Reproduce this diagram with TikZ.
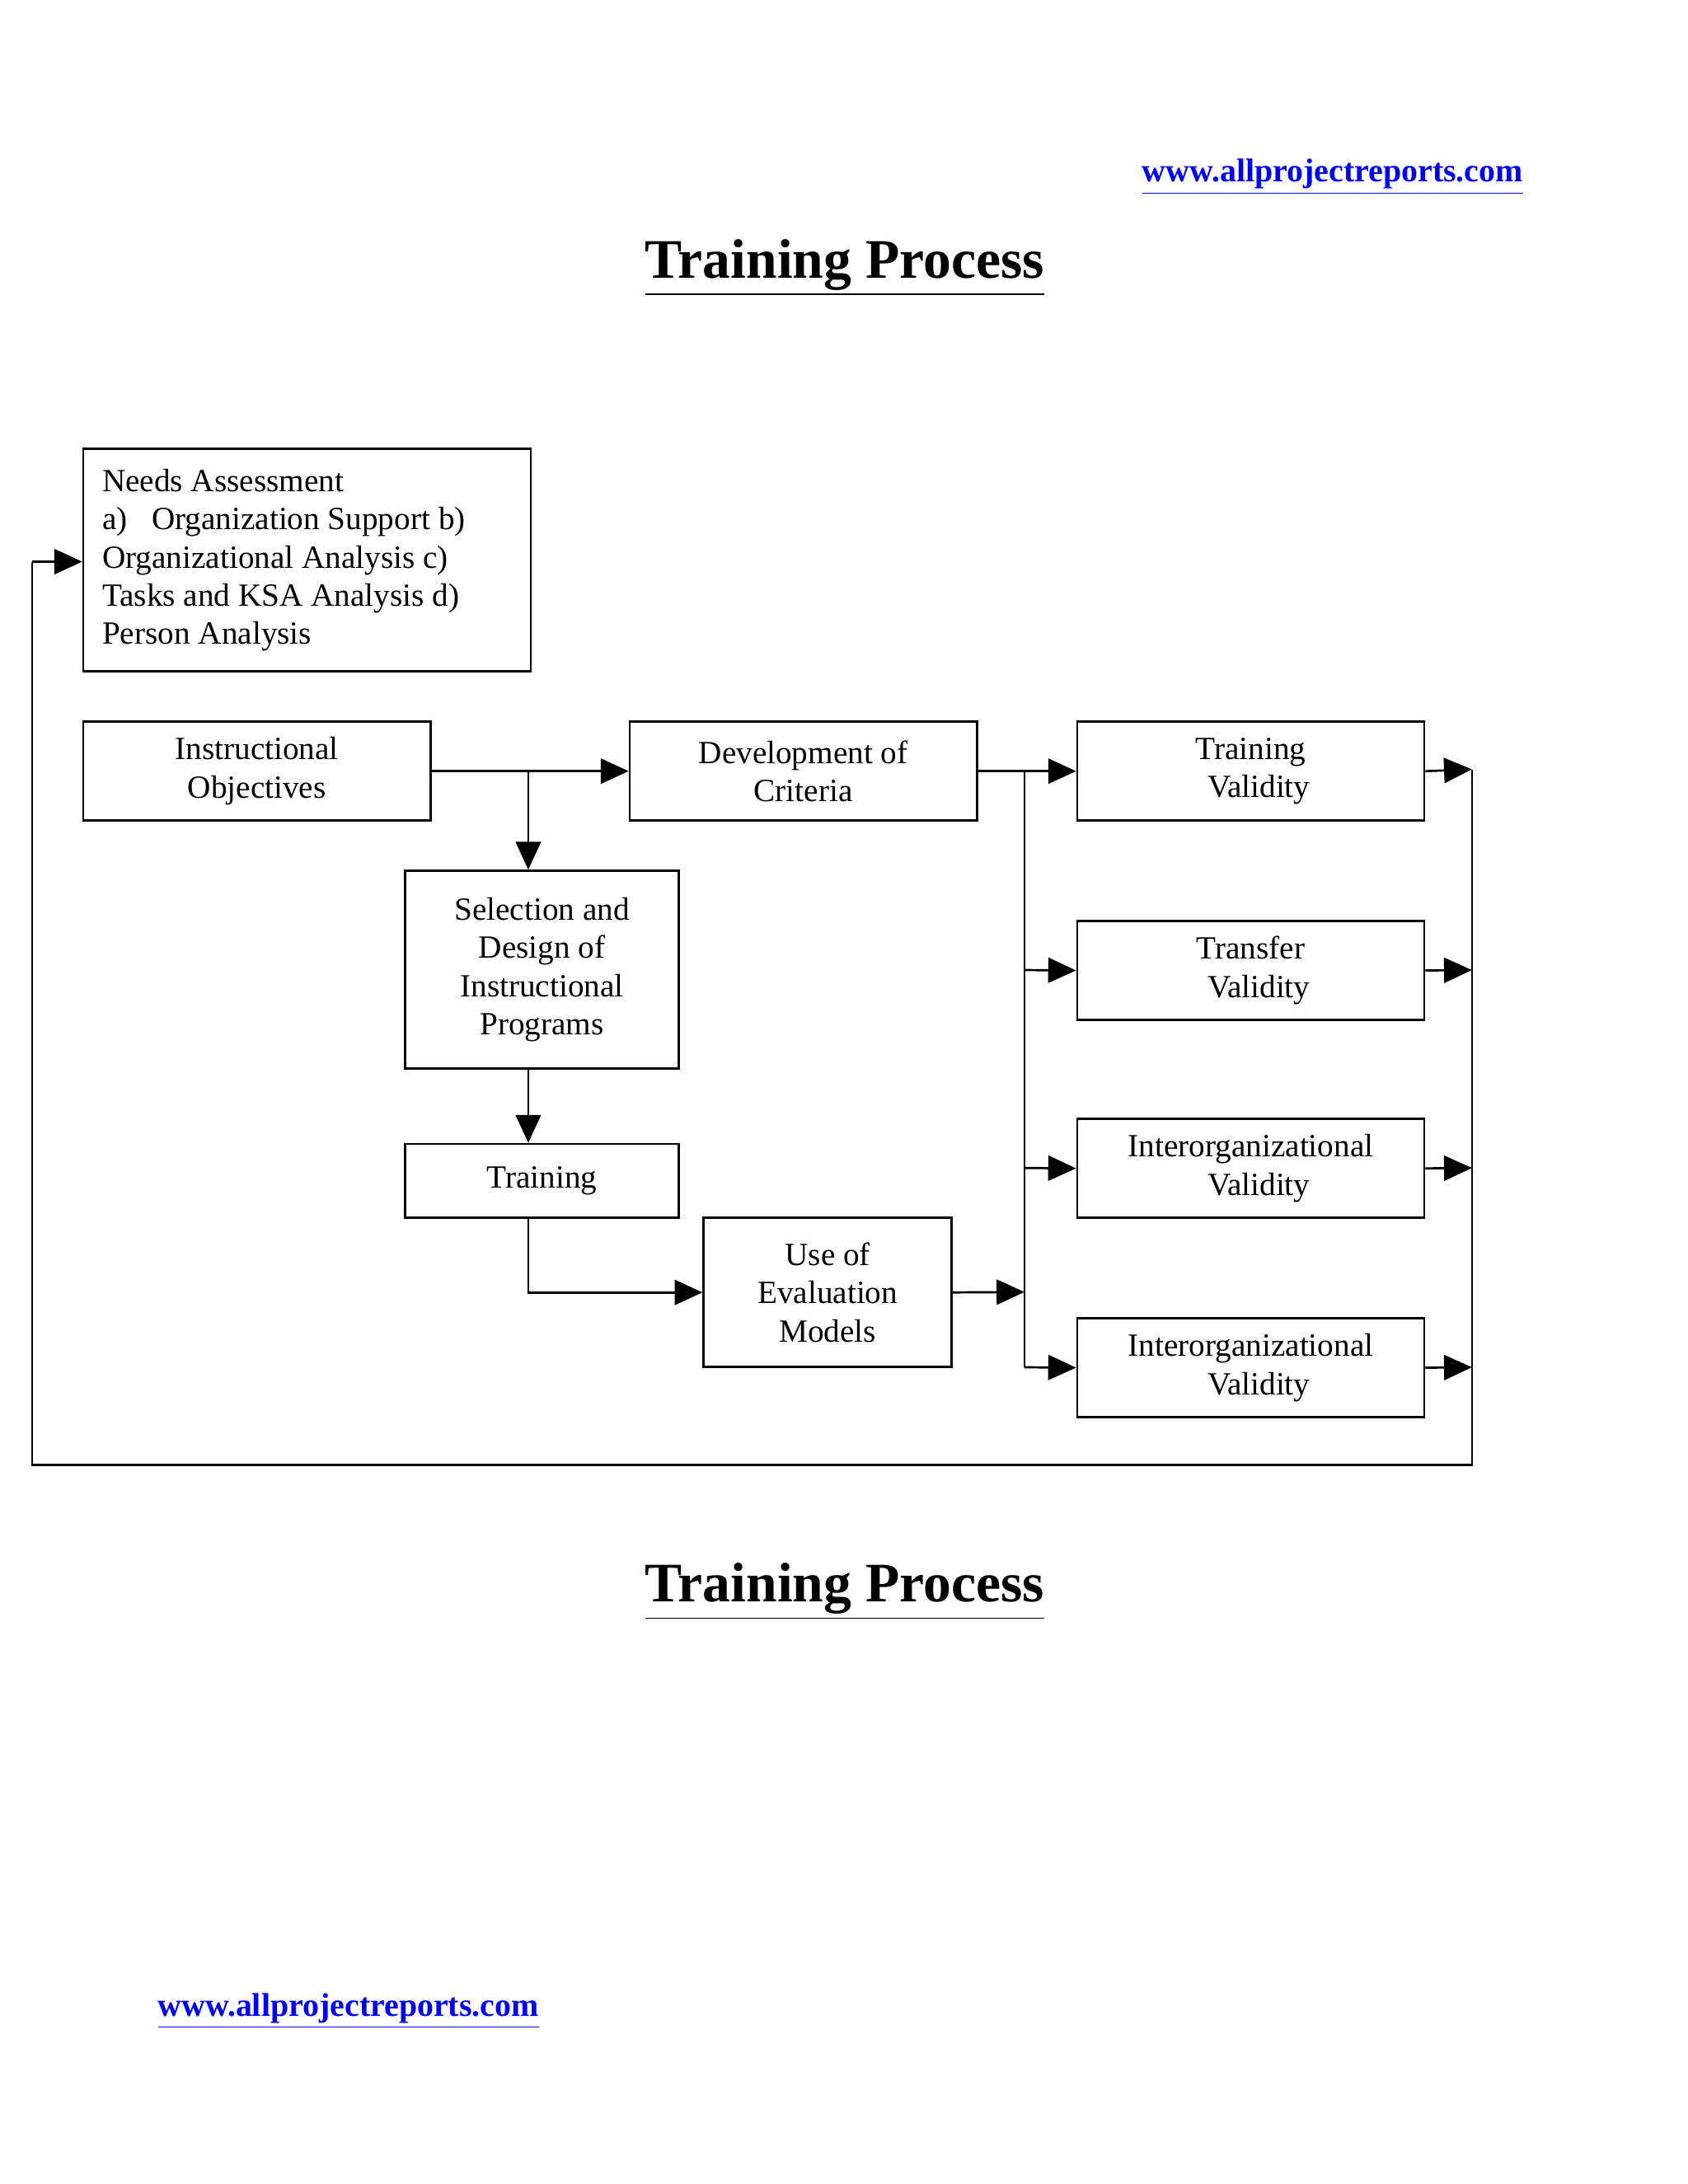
\documentclass[tikz,border=0pt]{standalone}
\usepackage{fontspec}
\setmainfont{Liberation Serif}
\usetikzlibrary{arrows.meta}
\begin{document}
\begin{tikzpicture}[x=0.5pt,y=-0.5pt,
 box/.style={draw,line width=0.8pt,inner sep=0pt,font=\fontsize{11.6}{13.7}\selectfont,align=center},
 ar/.style={line width=0.8pt,-{Triangle[length=10pt,width=9pt]}},
 ln/.style={line width=0.8pt},
 url/.style={inner sep=0pt,font=\bfseries\fontsize{11.8}{14}\selectfont,text=blue},
 ttl/.style={inner sep=0pt,font=\bfseries\fontsize{20}{24}\selectfont}]
\useasboundingbox (0,0) rectangle (1211,1567);
\node[url,anchor=east] (u1) at (1093,127) {\underline{www.allprojectreports.com}};
\node[ttl] (t1) at (606,192) {\underline{Training Process}};
\node[ttl] (t2) at (606,1142) {\underline{Training Process}};
\node[url,anchor=west] (u2) at (113,1443) {\underline{www.allprojectreports.com}};

\node[box,minimum width=160.5pt,minimum height=80pt,anchor=north west] (na) at (59,321) {};
\node[font=\fontsize{11.6}{13.7}\selectfont,align=left,anchor=west,inner sep=0pt] (nat) at (73,402) {Needs Assessment\\a)\ \ \ Organization Support b)\\Organizational Analysis c)\\Tasks and KSA Analysis d)\\Person Analysis};
\node[box,minimum width=124.5pt,minimum height=35.5pt,anchor=north west] (io) at (59,517) {Instructional\\Objectives};
\node[box,minimum width=124.5pt,minimum height=35.5pt,anchor=north west] (dc) at (451,517) {Development of\\Criteria};
\node[box,minimum width=124.5pt,minimum height=35.5pt,anchor=north west] (tv) at (772,517) {Training\\\ \ Validity};
\node[box,minimum width=124.5pt,minimum height=35.5pt,anchor=north west] (trv) at (772,660) {Transfer\\\ \ Validity};
\node[box,minimum width=124.5pt,minimum height=35.5pt,anchor=north west] (iv1) at (772,802) {Interorganizational\\\ \ Validity};
\node[box,minimum width=124.5pt,minimum height=35.5pt,anchor=north west] (iv2) at (772,945) {Interorganizational\\\ \ Validity};
\node[box,minimum width=98pt,minimum height=71pt,anchor=north west] (sd) at (290,624) {Selection and\\Design of\\Instructional\\Programs};
\node[box,minimum width=98pt,minimum height=26.5pt,anchor=north west] (tr) at (290,820) {Training};
\node[box,minimum width=89pt,minimum height=53.5pt,anchor=north west] (ue) at (504,873) {Use of\\Evaluation\\Models};

\coordinate (b1) at (379,552);
\coordinate (v1) at (735,552);
\coordinate (v2) at (735,981);
\coordinate (r1) at (1056,552);
\coordinate (r2) at (1056,1051);
\coordinate (l1) at (23,1051);
\coordinate (l2) at (23,403);

\draw[ar] (io.east) -- (dc.west);
\draw[ar] (b1) -- (379,624);
\draw[ar] (379,766) -- (379,820);
\draw[ar] (379,873) |- (ue.west);
\draw[ar] (dc.east) -- (tv.west);
\draw[ln] (v1) -- (v2);
\draw[ar] (ue.east) -- (735,927);
\draw[ar] (735,696) -- (trv.west);
\draw[ar] (735,838) -- (iv1.west);
\draw[ar] (v2) -- (iv2.west);
\draw[ar] (tv.east) -- (r1);
\draw[ar] (trv.east) -- (1056,696);
\draw[ar] (iv1.east) -- (1056,838);
\draw[ar] (iv2.east) -- (1056,981);
\draw[ln] (r1) -- (r2) -- (l1) -- (l2);
\draw[ar] (l2) -- (59,403);
\end{tikzpicture}
\end{document}
